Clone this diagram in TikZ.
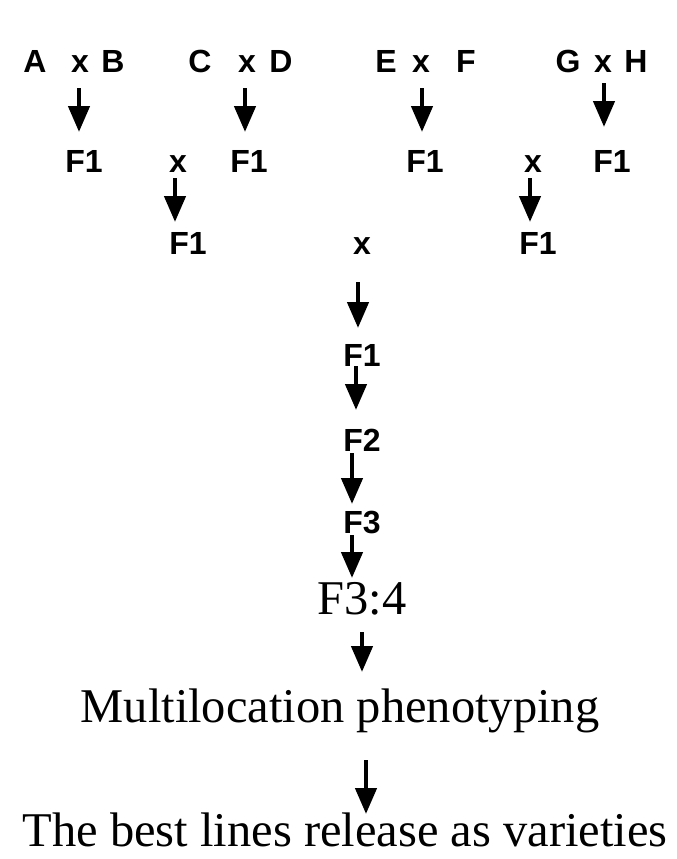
\documentclass[tikz,border=0pt]{standalone}
\usepackage{fontspec}
\setmainfont{Liberation Serif}
\newfontfamily\hb{Liberation Sans}
\usetikzlibrary{arrows.meta}
\begin{document}
\begin{tikzpicture}[x=1pt,y=-1pt,
  lab/.style={font=\hb\bfseries\fontsize{32}{34}\selectfont,inner sep=0pt,anchor=base},
  big/.style={font=\fontsize{48.5}{50}\selectfont,inner sep=0pt,anchor=base},
  arr/.style={line width=4.5pt,-{Triangle[width=21pt,length=26pt]}}]
\useasboundingbox (0,0) rectangle (677,859);
% row 1
\node[lab] (a) at (35,73) {A};
\node[lab] (x1) at (80,73) {x};
\node[lab] (b) at (113,73) {B};
\node[lab] (c) at (200,73) {C};
\node[lab] (x2) at (247,73) {x};
\node[lab] (d) at (281,73) {D};
\node[lab] (e) at (386,73) {E};
\node[lab] (x3) at (421,73) {x};
\node[lab] (f) at (466,73) {F};
\node[lab] (g) at (568,73) {G};
\node[lab] (x4) at (603,73) {x};
\node[lab] (h) at (636,73) {H};
% row 2
\node[lab] (f1a) at (84,172) {F1};
\node[lab] (x5) at (178,172) {x};
\node[lab] (f1b) at (249,172) {F1};
\node[lab] (f1c) at (425,172) {F1};
\node[lab] (x6) at (533,172) {x};
\node[lab] (f1d) at (612,172) {F1};
% row 3
\node[lab] (f1e) at (188,254) {F1};
\node[lab] (x7) at (362,254) {x};
\node[lab] (f1f) at (538,254) {F1};
% column
\node[lab] (f1g) at (362,366) {F1};
\node[lab] (f2) at (362,451) {F2};
\node[lab] (f3) at (362,533) {F3};
\node[big] (f34) at (362,614) {F3:4};
\node[big] (ml) at (340,722) {Multilocation phenotyping};
\node[big] (best) at (345,846) {The best lines release as varieties};
% arrows
\coordinate (p1) at (79,88); \coordinate (q1) at (79,132);
\coordinate (p2) at (245,88); \coordinate (q2) at (245,132);
\coordinate (p3) at (422,88); \coordinate (q3) at (422,132);
\coordinate (p4) at (604,83); \coordinate (q4) at (604,127);
\coordinate (p5) at (175,178); \coordinate (q5) at (175,222);
\coordinate (p6) at (530,178); \coordinate (q6) at (530,222);
\draw[arr] (p1) -- (q1);
\draw[arr] (p2) -- (q2);
\draw[arr] (p3) -- (q3);
\draw[arr] (p4) -- (q4);
\draw[arr] (p5) -- (q5);
\draw[arr] (p6) -- (q6);
\draw[arr] (358,282) -- (358,328);
\draw[arr] (356,366) -- (356,410);
\draw[arr] (352,453) -- (352,504);
\draw[arr] (352,535) -- (352,578);
\draw[arr] (362,632) -- (362,672);
\draw[arr] (366,760) -- (366,814);
\end{tikzpicture}
\end{document}
